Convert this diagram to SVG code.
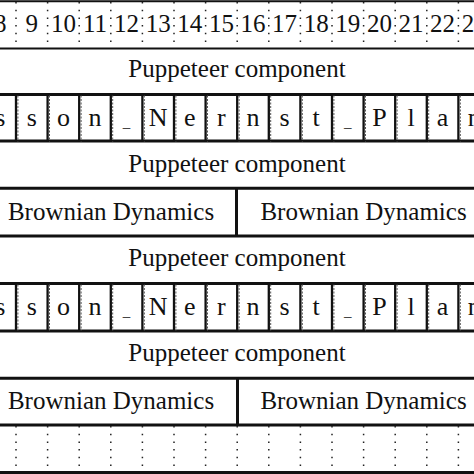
<svg xmlns="http://www.w3.org/2000/svg" width="474" height="474" viewBox="0 0 474 474">
<style>
text{font-family:"Liberation Serif","Times New Roman",serif;fill:#111;text-anchor:middle}
.num{font-size:25px}
.lab{font-size:25px}
.let{font-size:26px}
.us{font-size:15px}
.hl{stroke:#111;stroke-width:3;fill:none}
.hl2{stroke:#111;stroke-width:2;fill:none}
.sep{stroke:#111;stroke-width:2.3;fill:none}
.dot{stroke:#222;stroke-width:1.5;stroke-dasharray:1.5 6.2;fill:none}
.dsep{stroke:#555;stroke-width:1;stroke-dasharray:2 1.5;fill:none}
</style>
<rect width="474" height="474" fill="#fff"/>
<defs>
<g id="dotcols">
<path class="dot" d="M16 0V46M47.6 0V46M79.2 0V46M110.8 0V46M142.4 0V46M174 0V46M205.6 0V46M237.2 0V46M268.8 0V46M300.4 0V46M332 0V46M363.6 0V46M395.2 0V46M426.8 0V46M458.4 0V46"/>
</g>
<g id="letsep">
<path class="sep" d="M16 0V46M47.6 0V46M79.2 0V46M110.8 0V46M142.4 0V46M174 0V46M205.6 0V46M237.2 0V46M268.8 0V46M300.4 0V46M332 0V46M363.6 0V46M395.2 0V46M426.8 0V46M458.4 0V46"/>
<path class="dsep" d="M17.9 0V46M49.5 0V46M81.1 0V46M112.7 0V46M144.3 0V46M175.9 0V46M207.5 0V46M239.1 0V46M270.7 0V46M302.3 0V46M333.9 0V46M365.5 0V46M397.1 0V46M428.7 0V46M460.3 0V46"/>
</g>
<g id="letters">
<text x="0.2" y="0">s</text><text x="31.8" y="0">s</text><text x="63.4" y="0">o</text><text x="95" y="0">n</text><text class="us" x="126.6" y="1">_</text><text x="158.2" y="0">N</text><text x="189.8" y="0">e</text><text x="221.4" y="0">r</text><text x="253" y="0">n</text><text x="284.6" y="0">s</text><text x="316.2" y="0">t</text><text class="us" x="347.8" y="1">_</text><text x="379.4" y="0">P</text><text x="411" y="0">l</text><text x="442.6" y="0">a</text><text x="474.2" y="0">n</text>
</g>
</defs>

<g id="grid">
<path class="hl2" d="M0 1.2H474M0 48.5H474"/>
<use href="#dotcols" y="2"/>
<path class="hl" d="M0 94.5H474M0 141H474"/>
<use href="#letsep" y="95.5"/>
<path class="hl" d="M0 188.3H474M0 236H474M236.5 188H236.5V236"/>
<path class="hl" d="M0 283.5H474M0 331H474"/>
<use href="#letsep" y="284.5"/>
<path class="hl" d="M0 378.3H474M0 425H474M237.5 378H237.5V425"/>
<use href="#dotcols" y="426"/>
<path class="hl" d="M0 472.5H474"/>
</g>

<g id="timesteps">
<text class="num" x="0.2" y="32">8</text><text class="num" x="31.8" y="32">9</text><text class="num" x="63.4" y="32">10</text><text class="num" x="95" y="32">11</text><text class="num" x="126.6" y="32">12</text><text class="num" x="158.2" y="32">13</text><text class="num" x="189.8" y="32">14</text><text class="num" x="221.4" y="32">15</text><text class="num" x="253" y="32">16</text><text class="num" x="284.6" y="32">17</text><text class="num" x="316.2" y="32">18</text><text class="num" x="347.8" y="32">19</text><text class="num" x="379.4" y="32">20</text><text class="num" x="411" y="32">21</text><text class="num" x="442.6" y="32">22</text><text class="num" x="474.2" y="32">23</text>
</g>

<g id="puppeteer1"><text class="lab" x="237" y="77">Puppeteer component</text></g>
<g id="pnp1" class="let"><use href="#letters" y="126"/></g>
<g id="puppeteer2"><text class="lab" x="237" y="171.5">Puppeteer component</text></g>
<g id="bd1"><text class="lab" x="111" y="220">Brownian Dynamics</text></g>
<g id="bd2"><text class="lab" x="363.5" y="220">Brownian Dynamics</text></g>
<g id="puppeteer3"><text class="lab" x="237" y="266">Puppeteer component</text></g>
<g id="pnp2" class="let"><use href="#letters" y="315"/></g>
<g id="puppeteer4"><text class="lab" x="237" y="360.5">Puppeteer component</text></g>
<g id="bd3"><text class="lab" x="111" y="409">Brownian Dynamics</text></g>
<g id="bd4"><text class="lab" x="363.5" y="409">Brownian Dynamics</text></g>
<g id="connectors"/>
</svg>
